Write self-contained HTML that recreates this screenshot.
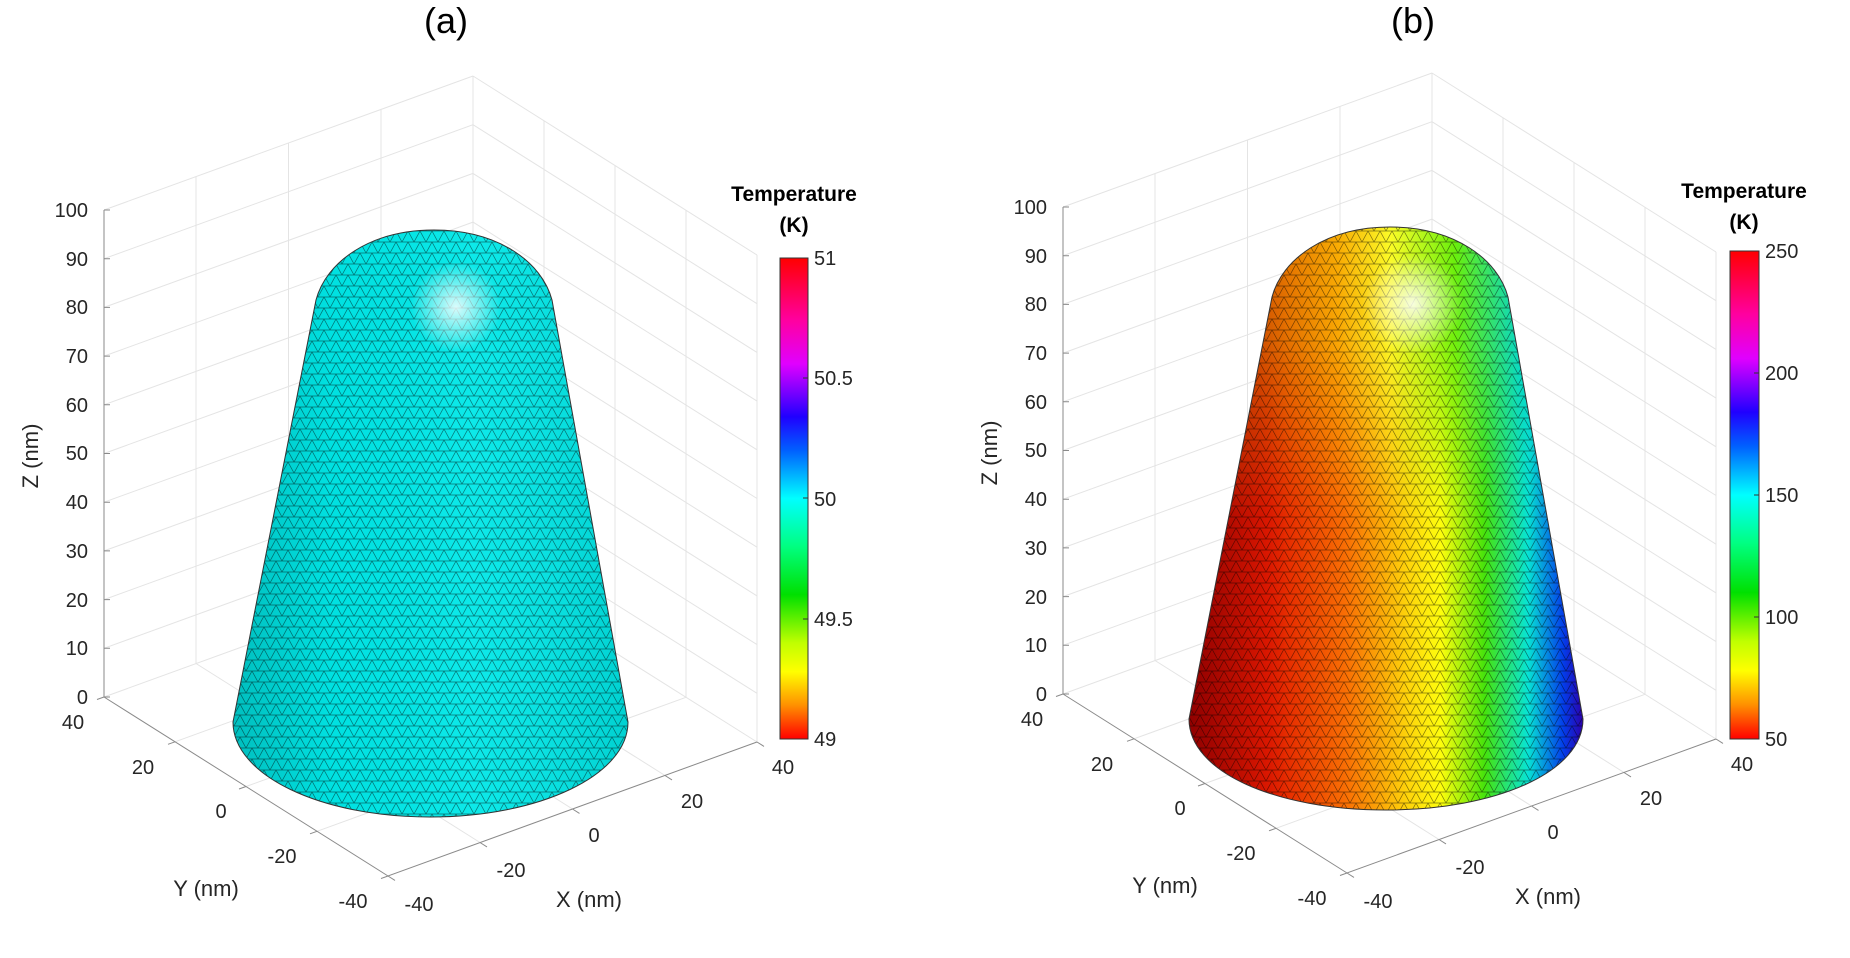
<!DOCTYPE html>
<html><head><meta charset="utf-8"><style>
html,body{margin:0;padding:0;background:#fff;}
svg{display:block;font-family:"Liberation Sans",Arial,sans-serif;}
.t{font-size:20px;fill:#262626;}
</style></head><body>
<svg width="1850" height="958" viewBox="0 0 1850 958" xmlns="http://www.w3.org/2000/svg">
<defs>
  <pattern id="mesh" width="12" height="11" patternUnits="userSpaceOnUse">
    <path d="M0,0 H12 M0,0 L6,11 L12,0 M0,11 H12" stroke="#000" stroke-opacity="0.5" stroke-width="0.7" fill="none"/>
  </pattern>
  <linearGradient id="cmap" x1="0" y1="0" x2="0" y2="1">
    <stop offset="0" stop-color="#ff0000"/>
    <stop offset="0.13" stop-color="#ff00a0"/>
    <stop offset="0.22" stop-color="#e000ff"/>
    <stop offset="0.33" stop-color="#2000ff"/>
    <stop offset="0.4" stop-color="#0060ff"/>
    <stop offset="0.5" stop-color="#00ffff"/>
    <stop offset="0.6" stop-color="#00ff80"/>
    <stop offset="0.7" stop-color="#00e000"/>
    <stop offset="0.8" stop-color="#c0ff00"/>
    <stop offset="0.86" stop-color="#ffff00"/>
    <stop offset="0.93" stop-color="#ff9000"/>
    <stop offset="1" stop-color="#ff0000"/>
  </linearGradient>
  <linearGradient id="shadeA" x1="0" y1="0" x2="1" y2="0">
    <stop offset="0" stop-color="#000" stop-opacity="0.18"/>
    <stop offset="0.25" stop-color="#000" stop-opacity="0.03"/>
    <stop offset="0.6" stop-color="#fff" stop-opacity="0.05"/>
    <stop offset="1" stop-color="#000" stop-opacity="0.1"/>
  </linearGradient>
  <radialGradient id="hlA" cx="456" cy="307" r="45" gradientUnits="userSpaceOnUse">
    <stop offset="0" stop-color="#fff" stop-opacity="0.85"/>
    <stop offset="1" stop-color="#fff" stop-opacity="0"/>
  </radialGradient>
  <radialGradient id="hlB" cx="1413" cy="304" r="50" gradientUnits="userSpaceOnUse">
    <stop offset="0" stop-color="#fff" stop-opacity="0.85"/>
    <stop offset="1" stop-color="#fff" stop-opacity="0"/>
  </radialGradient>
  <linearGradient id="tempB" x1="1189" y1="0" x2="1583" y2="0" gradientUnits="userSpaceOnUse">
    <stop offset="0" stop-color="#b00000"/>
    <stop offset="0.2" stop-color="#e81800"/>
    <stop offset="0.4" stop-color="#ff7000"/>
    <stop offset="0.55" stop-color="#ffd000"/>
    <stop offset="0.64" stop-color="#ffff00"/>
    <stop offset="0.75" stop-color="#40e800"/>
    <stop offset="0.86" stop-color="#00f0e0"/>
    <stop offset="0.95" stop-color="#0040ff"/>
    <stop offset="1" stop-color="#3000c0"/>
  </linearGradient>
  <linearGradient id="tempBd" x1="1260" y1="0" x2="1520" y2="0" gradientUnits="userSpaceOnUse">
    <stop offset="0" stop-color="#e06000"/>
    <stop offset="0.3" stop-color="#ffb000"/>
    <stop offset="0.5" stop-color="#ffff20"/>
    <stop offset="0.75" stop-color="#60f000"/>
    <stop offset="1" stop-color="#00e0d0"/>
  </linearGradient>
  <linearGradient id="fadeV" x1="0" y1="0" x2="0" y2="1">
    <stop offset="0" stop-color="#fff" stop-opacity="1"/>
    <stop offset="0.4" stop-color="#fff" stop-opacity="0.9"/>
    <stop offset="1" stop-color="#fff" stop-opacity="0"/>
  </linearGradient>
  <mask id="domeMask" maskUnits="userSpaceOnUse" x="1150" y="220" width="450" height="300">
    <rect x="1150" y="220" width="450" height="300" fill="url(#fadeV)"/>
  </mask>
  <g id="axes">
    <g stroke="#e4e4e4" stroke-width="1" fill="none">
      <path d="M104,697 L473,563 M104,648.3 L473,514.3 M104,599.6 L473,465.6 M104,550.9 L473,416.9 M104,502.2 L473,368.2 M104,453.5 L473,319.5 M104,404.8 L473,270.8 M104,356.1 L473,222.1 M104,307.4 L473,173.4 M104,258.7 L473,124.7 M104,210 L473,76"/>
      <path d="M473,563 L757,742 M473,514.3 L757,693.3 M473,465.6 L757,644.6 M473,416.9 L757,595.9 M473,368.2 L757,547.2 M473,319.5 L757,498.5 M473,270.8 L757,449.8 M473,222.1 L757,401.1 M473,173.4 L757,352.4 M473,124.7 L757,303.7 M473,76 L757,255"/>
      <path d="M196,663.5 V176.5 M288.5,630 V143 M381,596.5 V109.5 M473,563 V76 M544,607.8 V120.8 M615,652.5 V165.5 M686,697.3 V210.3 M757,742 V255"/>
      <path d="M196,663.5 L480,842.5 M288.5,630 L572.5,809 M381,596.5 L665,775.5 M175,741.8 L544,607.8 M246,786.5 L615,652.5 M317,831.3 L686,697.3"/>
    </g>
    <g stroke="#8a8a8a" stroke-width="1" fill="none">
      <path d="M104,697 V210 M104,697 L388,876 L757,742"/>
      <path d="M104,697 h6 M104,648.3 h6 M104,599.6 h6 M104,550.9 h6 M104,502.2 h6 M104,453.5 h6 M104,404.8 h6 M104,356.1 h6 M104,307.4 h6 M104,258.7 h6 M104,210 h6"/>
      <path d="M104,697 l-7,2.5 M175,741.8 l-7,2.5 M246,786.5 l-7,2.5 M317,831.3 l-7,2.5 M388,876 l-7,2.5 M388,876 l7,4.4 M480,842.5 l7,4.4 M572.5,809 l7,4.4 M665,775.5 l7,4.4 M757,742 l7,4.4"/>
    </g>
    <g class="t" text-anchor="end">
      <text x="88" y="704">0</text><text x="88" y="655">10</text><text x="88" y="607">20</text><text x="88" y="558">30</text><text x="88" y="509">40</text><text x="88" y="460">50</text><text x="88" y="412">60</text><text x="88" y="363">70</text><text x="88" y="314">80</text><text x="88" y="266">90</text><text x="88" y="217">100</text>
    </g>
    <g class="t" text-anchor="middle">
      <text x="73" y="729">40</text><text x="143" y="774">20</text><text x="221" y="818">0</text><text x="282" y="863">-20</text><text x="353" y="908">-40</text>
      <text x="419" y="911">-40</text><text x="511" y="877">-20</text><text x="594" y="842">0</text><text x="692" y="808">20</text><text x="783" y="774">40</text>
      <text x="206" y="896" style="font-size:22px">Y (nm)</text>
      <text x="589" y="907" style="font-size:22px">X (nm)</text>
      <text transform="translate(38,456) rotate(-90)" style="font-size:22px">Z (nm)</text>
    </g>
  </g>
</defs>

<!-- Panel A -->
<text x="446" y="33" text-anchor="middle" style="font-size:36px;fill:#000">(a)</text>
<use href="#axes"/>
<path d="M233,722 L316,300 C326,262 370,230 434,230 C498,230 542,262 552,300 L628,722 C628,775 540,817 430,817 C320,817 233,775 233,722 Z" fill="#00e8e8"/>
<path d="M233,722 L316,300 C326,262 370,230 434,230 C498,230 542,262 552,300 L628,722 C628,775 540,817 430,817 C320,817 233,775 233,722 Z" fill="url(#shadeA)"/>
<path d="M233,722 L316,300 C326,262 370,230 434,230 C498,230 542,262 552,300 L628,722 C628,775 540,817 430,817 C320,817 233,775 233,722 Z" fill="url(#mesh)"/>
<circle cx="456" cy="307" r="45" fill="url(#hlA)"/>
<path d="M233,722 L316,300 C326,262 370,230 434,230 C498,230 542,262 552,300 L628,722 C628,775 540,817 430,817 C320,817 233,775 233,722 Z" fill="none" stroke="#333" stroke-width="1"/>
<rect x="780" y="258" width="28" height="481" fill="url(#cmap)" stroke="#333" stroke-width="1"/>
<g stroke="#333"><path d="M803,258 h5 M803,378 h5 M803,498 h5 M803,619 h5 M803,739 h5"/></g>
<g class="t"><text x="814" y="265">51</text><text x="814" y="385">50.5</text><text x="814" y="506">50</text><text x="814" y="626">49.5</text><text x="814" y="746">49</text></g>
<text x="794" y="201" text-anchor="middle" style="font-size:21px;font-weight:bold;fill:#000">Temperature</text>
<text x="794" y="232" text-anchor="middle" style="font-size:21px;font-weight:bold;fill:#000">(K)</text>

<!-- Panel B -->
<text x="1413" y="33" text-anchor="middle" style="font-size:36px;fill:#000">(b)</text>
<use href="#axes" transform="translate(959,-3)"/>
<path d="M1189,719 L1272,297 C1282,259 1326,227 1390,227 C1454,227 1498,259 1508,297 L1583,719 C1583,772 1496,810 1386,810 C1276,810 1189,772 1189,719 Z" fill="url(#tempB)"/>
<path d="M1189,719 L1272,297 C1282,259 1326,227 1390,227 C1454,227 1498,259 1508,297 L1583,719 C1583,772 1496,810 1386,810 C1276,810 1189,772 1189,719 Z" fill="url(#tempBd)" mask="url(#domeMask)"/>
<path d="M1189,719 L1272,297 C1282,259 1326,227 1390,227 C1454,227 1498,259 1508,297 L1583,719 C1583,772 1496,810 1386,810 C1276,810 1189,772 1189,719 Z" fill="url(#shadeA)"/>
<path d="M1189,719 L1272,297 C1282,259 1326,227 1390,227 C1454,227 1498,259 1508,297 L1583,719 C1583,772 1496,810 1386,810 C1276,810 1189,772 1189,719 Z" fill="url(#mesh)"/>
<circle cx="1413" cy="304" r="50" fill="url(#hlB)"/>
<path d="M1189,719 L1272,297 C1282,259 1326,227 1390,227 C1454,227 1498,259 1508,297 L1583,719 C1583,772 1496,810 1386,810 C1276,810 1189,772 1189,719 Z" fill="none" stroke="#333" stroke-width="1"/>
<rect x="1730" y="251" width="29" height="488" fill="url(#cmap)" stroke="#333" stroke-width="1"/>
<g stroke="#333"><path d="M1754,251 h5 M1754,373 h5 M1754,495 h5 M1754,617 h5 M1754,739 h5"/></g>
<g class="t"><text x="1765" y="258">250</text><text x="1765" y="380">200</text><text x="1765" y="502">150</text><text x="1765" y="624">100</text><text x="1765" y="746">50</text></g>
<text x="1744" y="198" text-anchor="middle" style="font-size:21px;font-weight:bold;fill:#000">Temperature</text>
<text x="1744" y="229" text-anchor="middle" style="font-size:21px;font-weight:bold;fill:#000">(K)</text>
</svg>
</body></html>
